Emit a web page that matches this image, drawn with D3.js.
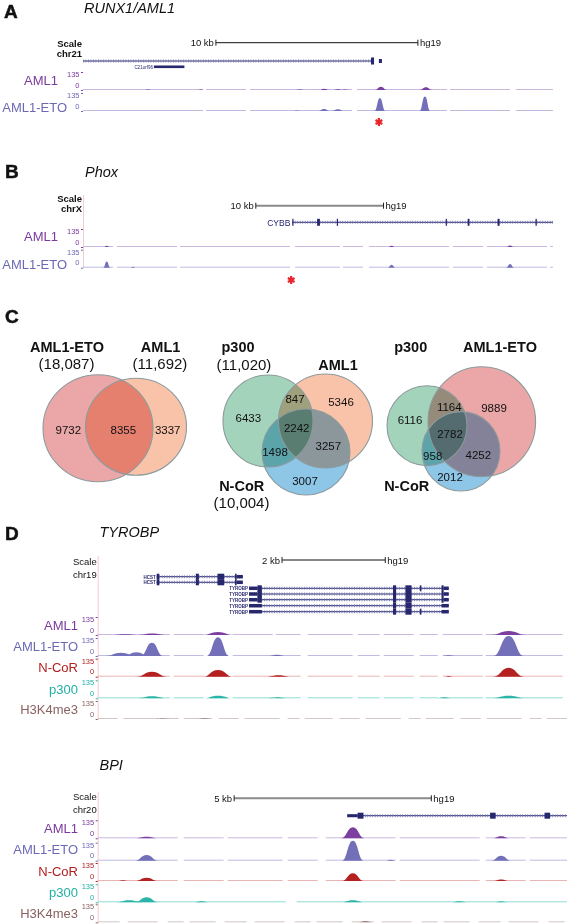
<!DOCTYPE html>
<html>
<head>
<meta charset="utf-8">
<script src="https://cdn.jsdelivr.net/npm/d3@7"></script>
<style>
  body { margin: 0; background: #fff; }
  svg { display: block; font-family: "Liberation Sans", Arial, sans-serif; }
</style>
</head>
<body>
<svg id="fig" width="567" height="924"></svg>
<script>
// ---------- data ----------
// peaks are [centre kb, half width kb, signal (0-135 scale)]

// A  RUNX1/AML1
const runxScaleBar = [6.58, 16.58];
const runxSpan = [0, 14.31];
const runxExons = [[14.26, 14.41, "cds"], [14.65, 14.80, "utr"]];
const runxOrfSpan = [3.51, 5.02];
const runxAML1 = [[3.22, 0.15, 3], [5.84, 0.15, 3], [10.74, 0.2, 3], [11.93, 0.25, 9], [12.62, 0.2, 5], [12.97, 0.2, 4], [14.75, 0.3, 24], [16.98, 0.3, 20]];
const runxAML1ETO = [[10.59, 0.2, 4], [11.93, 0.3, 15], [12.62, 0.3, 13], [14.70, 0.27, 97], [16.93, 0.27, 109]];
const runxStar = 14.65;

// B  Phox (CYBB)
const phoxScaleBar = [13.53, 23.53];
const cybbSpan = [16.39, 36.8];
const cybbExons = [[16.39, 16.47, "cds"], [18.33, 18.55, "cds"], [19.87, 19.97, "cds"], [28.40, 28.47, "cds"], [30.12, 30.26, "cds"], [32.46, 32.62, "cds"], [35.43, 35.53, "cds"]];
const phoxAML1 = [[1.86, 0.25, 10], [24.16, 0.3, 10], [33.44, 0.3, 12]];
const phoxAML1ETO = [[1.86, 0.28, 47], [3.92, 0.2, 8], [24.16, 0.3, 23], [33.44, 0.3, 27]];
const phoxStar = 16.3;

// C  Venn diagrams
const venn1Names = ["AML1-ETO", "AML1"];
const venn1Totals = ["(18,087)", "(11,692)"];
const venn1Counts = [9732, 8355, 3337];
const venn2Names = ["p300", "AML1", "N-CoR"];
const venn2Totals = ["(11,020)", "", "(10,004)"];
const venn2Counts = [6433, 847, 5346, 2242, 1498, 3257, 3007];
const venn3Names = ["p300", "AML1-ETO", "N-CoR"];
const venn3Counts = [6116, 1164, 9889, 2782, 958, 4252, 2012];

// D  TYROBP
const tyroScaleBar = [3.57, 5.57];
const hcstSpan = [1.143, 2.81];
const hcstExons = [[1.143, 1.194, "cds"], [1.90, 1.96, "cds"], [2.32, 2.45, "cds"], [2.66, 2.69, "cds"], [2.69, 2.81, "utr"]];
const tyroSpan = [2.932, 6.80];
const tyroExonsLong = [[2.932, 3.093, "utr"], [3.093, 3.18, "cds"], [5.72, 5.78, "cds"], [5.96, 6.08, "cds"], [6.66, 6.70, "cds"], [6.70, 6.80, "utr"]];
const tyroExonsShort = [[2.932, 3.18, "utr"], [5.72, 5.78, "cds"], [5.96, 6.08, "cds"], [6.66, 6.80, "utr"]];
const tyroExtraExon = [[6.24, 6.27, "cds"]];
const tyroAML1 = [[0.53, 0.25, 5], [1.05, 0.3, 11], [2.33, 0.3, 22], [7.96, 0.35, 30]];
const tyroAML1ETO = [[0.45, 0.3, 24], [0.75, 0.25, 28], [1.05, 0.22, 100], [2.33, 0.22, 140], [3.47, 0.2, 10], [6.80, 0.15, 6], [7.96, 0.3, 150]];
const tyroNCoR = [[1.05, 0.3, 37], [2.33, 0.3, 50], [3.50, 0.25, 11], [6.80, 0.1, 6], [7.96, 0.3, 67]];
const tyroP300 = [[1.05, 0.3, 15], [2.33, 0.3, 19], [3.47, 0.2, 7], [6.70, 0.15, 7], [7.96, 0.35, 19]];
const tyroH3K4 = [[1.26, 0.15, 5], [2.07, 0.12, 5]];

// D  BPI
const bpiScaleBar = [3.46, 8.46];
const bpiSpan = [6.33, 11.9];
const bpiExons = [[6.33, 6.59, "utr"], [6.59, 6.74, "cds"], [9.95, 10.09, "cds"], [11.33, 11.47, "cds"]];
const bpiAML1 = [[1.24, 0.3, 11], [6.47, 0.3, 82], [10.23, 0.22, 15]];
const bpiAML1ETO = [[1.24, 0.3, 43], [6.47, 0.28, 150], [7.43, 0.15, 8], [10.23, 0.25, 37]];
const bpiNCoR = [[0.64, 0.15, 6], [1.24, 0.3, 25], [6.47, 0.28, 58], [10.23, 0.2, 11]];
const bpiP300 = [[0.8, 0.35, 15], [1.24, 0.3, 37], [2.63, 0.2, 7], [6.47, 0.3, 15], [9.17, 0.2, 7], [10.23, 0.15, 7]];
const bpiH3K4 = [[6.79, 0.2, 10]];

// ---------- styles ----------
const col = {
  AML1:       { text: "#7b3a9c", fill: "#7d3f9f", light: "#cbb8de" },
  "AML1-ETO": { text: "#6c69b3", fill: "#7370b9", light: "#bebce1" },
  "N-CoR":    { text: "#b01e1e", fill: "#b52020", light: "#e8b4b4" },
  p300:       { text: "#20b0a4", fill: "#2ab5a8", light: "#8fdcd4" },
  H3K4me3:    { text: "#8a6262", fill: "#a07f7f", light: "#d2c6c6" }
};
const geneCol = "#27276e";

const svg = d3.select("#fig");

function txt(g, x, y, s, size, opts = {}) {
  return g.append("text").attr("x", x).attr("y", y)
    .attr("text-anchor", opts.anchor || "start")
    .attr("fill", opts.fill || "#111")
    .style("font-size", size + "px")
    .style("font-weight", opts.weight || "normal")
    .style("font-style", opts.italic ? "italic" : "normal")
    .text(s);
}

function drawGene(g, x, y, span, exons, cds, utr) {
  g.append("line").attr("x1", x(span[0])).attr("x2", x(span[1]))
    .attr("y1", y).attr("y2", y).attr("stroke", geneCol).attr("stroke-width", 1);
  g.append("line").attr("x1", x(span[0])).attr("x2", x(span[1]))
    .attr("y1", y).attr("y2", y).attr("stroke", "#7777b0").attr("stroke-width", 3)
    .attr("stroke-dasharray", "0.8,1.7");
  g.selectAll(null).data(exons).join("rect")
    .attr("x", d => x(d[0])).attr("width", d => Math.max(1.2, x(d[1]) - x(d[0])))
    .attr("y", d => y - (d[2] === "cds" ? cds : utr) / 2)
    .attr("height", d => d[2] === "cds" ? cds : utr)
    .attr("fill", geneCol);
}

function drawBrowser(cfg) {
  const g = svg.append("g");
  const x = d3.scaleLinear().domain(cfg.domain).range([cfg.x0, cfg.x1]);

  if (cfg.edge) {
    g.append("line").attr("x1", cfg.x0 + 0.5).attr("x2", cfg.x0 + 0.5)
      .attr("y1", cfg.edge[0]).attr("y2", cfg.edge[1]).attr("stroke", "#f5cccc");
  }

  // Scale / chromosome labels
  txt(g, cfg.x0 - 1, cfg.scaleTextY, "Scale", 9.5, { anchor: "end", weight: cfg.boldScale ? "bold" : "normal" });
  txt(g, cfg.x0 - 1, cfg.chrTextY, cfg.chr, 9.5, { anchor: "end", weight: cfg.boldScale ? "bold" : "normal" });

  // Scale bar
  const sb = cfg.scaleBar;
  g.append("line").attr("x1", x(sb[0])).attr("x2", x(sb[1]))
    .attr("y1", cfg.barY).attr("y2", cfg.barY)
    .attr("stroke", cfg.barColor).attr("stroke-width", cfg.barWidth);
  [sb[0], sb[1]].forEach(v => {
    g.append("line").attr("x1", x(v)).attr("x2", x(v))
      .attr("y1", cfg.barY - 3).attr("y2", cfg.barY + 3).attr("stroke", "#222");
  });
  txt(g, x(sb[0]) - 2, cfg.barY + 3.5, cfg.barLabel, 9.5, { anchor: "end" });
  txt(g, x(sb[1]) + 2, cfg.barY + 3.5, "hg19", 9.5);

  cfg.genes(g, x);

  // Signal tracks
  cfg.tracks.forEach(t => {
    const c = col[t.name];
    const y = d3.scaleLinear().domain([0, 150]).range([t.base, t.base - 20]).clamp(true);
    g.append("line").attr("x1", cfg.x0).attr("x2", cfg.x1)
      .attr("y1", t.base - 0.5).attr("y2", t.base - 0.5)
      .attr("stroke", c.light).attr("stroke-width", 1)
      .attr("stroke-dasharray", t.dash || cfg.dash);
    const area = d3.area().x(d => x(d[0])).y0(t.base).y1(d => y(d[1])).curve(d3.curveBumpX);
    g.selectAll(null).data(t.peaks).join("path")
      .attr("d", p => area([[p[0] - p[1], 0], [p[0], p[2]], [p[0] + p[1], 0]]))
      .attr("fill", c.fill);
    const ax = g.append("g").attr("transform", `translate(${cfg.x0},0)`)
      .call(d3.axisLeft(y).tickValues([0, 135]).tickSize(2).tickPadding(1.5));
    ax.select(".domain").remove();
    ax.selectAll("line").attr("stroke", c.text);
    ax.selectAll("text").attr("fill", c.text)
      .attr("dy", d => d === 0 ? "-0.4em" : "0.6em")
      .style("font-size", "7.5px").style("font-family", "'Liberation Sans', Arial, sans-serif");
    txt(g, t.labelX, t.labelY, t.name, 13, { anchor: "end", fill: c.text });
  });

  if (cfg.star != null) {
    g.append("path")
      .attr("transform", `translate(${x(cfg.star)},${cfg.starY})`)
      .attr("d", d3.symbol().type(d3.symbolAsterisk).size(42)())
      .attr("stroke", "#e8242a").attr("stroke-width", 2.2).attr("fill", "none");
  }
}

// ---------- panel headings ----------
const heads = svg.append("g");
[["A", 4, 18], ["B", 5, 178], ["C", 5, 323], ["D", 5, 540]].forEach(([s, x, y]) => {
  txt(heads, x, y, s, 19, { weight: "bold" }).attr("stroke", "#111").attr("stroke-width", 0.5);
});
txt(heads, 84, 13, "RUNX1/AML1", 14.5, { italic: true });
txt(heads, 85, 177, "Phox", 14.5, { italic: true });
txt(heads, 99.5, 537, "TYROBP", 14.5, { italic: true });
txt(heads, 99.5, 769.5, "BPI", 14.5, { italic: true });

// ---------- A ----------
drawBrowser({
  domain: [0, 23.27], x0: 83, x1: 553, chr: "chr21", boldScale: true,
  scaleTextY: 46.5, chrTextY: 56.5, barY: 42.7, barColor: "#111", barWidth: 1,
  scaleBar: runxScaleBar, barLabel: "10 kb",
  dash: "120,3,40,4,70,2,30,5,90,3,60,6",
  genes: (g, x) => {
    drawGene(g, x, 61, runxSpan, runxExons, 7, 4);
    g.append("rect").attr("x", x(runxOrfSpan[0])).attr("width", x(runxOrfSpan[1]) - x(runxOrfSpan[0]))
      .attr("y", 65.5).attr("height", 2.6).attr("fill", geneCol);
    txt(g, x(runxOrfSpan[0]) - 1, 68.5, "C21orf96", 4.5, { anchor: "end", fill: geneCol });
  },
  tracks: [
    { name: "AML1", base: 90, peaks: runxAML1, labelX: 58, labelY: 85 },
    { name: "AML1-ETO", base: 111, peaks: runxAML1ETO, labelX: 67, labelY: 112 }
  ],
  star: runxStar, starY: 122
});

// ---------- B ----------
drawBrowser({
  domain: [0, 36.8], x0: 83, x1: 553, chr: "chrX", boldScale: true, edge: [195, 268],
  scaleTextY: 201.5, chrTextY: 212, barY: 205.7, barColor: "#8a8a8a", barWidth: 2,
  scaleBar: phoxScaleBar, barLabel: "10 kb",
  dash: "30,4,60,3,110,5,45,3,20,6,80,4",
  genes: (g, x) => {
    drawGene(g, x, 222.3, cybbSpan, cybbExons, 7, 4);
    txt(g, x(cybbSpan[0]) - 2, 225.5, "CYBB", 8.5, { anchor: "end", fill: geneCol });
  },
  tracks: [
    { name: "AML1", base: 247, peaks: phoxAML1, labelX: 58, labelY: 240.7 },
    { name: "AML1-ETO", base: 267.7, peaks: phoxAML1ETO, labelX: 67, labelY: 269 }
  ],
  star: phoxStar, starY: 280
});

// ---------- C  Venn diagrams ----------
const vennColors = { pink: "#eba7a7", orange: "#f9c3aa", green: "#a3d3ba", blue: "#8ec6e8" };
const vennLayouts = [
  {
    circles: [[98, 428.3, 55, 53.5, "pink"], [136, 426.7, 50.5, 48.5, "orange"]],
    names: venn1Names, totals: venn1Totals,
    namePos: [[67, 352], [160.6, 352]], totalPos: [[66.5, 368.5], [160, 368.5]],
    counts: venn1Counts, countPos: [[68.3, 430], [123.3, 430], [167.7, 430]]
  },
  {
    circles: [[268, 421, 45, 46, "green"], [325.5, 421, 47, 47, "orange"], [306, 452, 44, 43, "blue"]],
    names: venn2Names, totals: venn2Totals,
    namePos: [[238, 352], [338, 369.5], [241.7, 491]], totalPos: [[244, 369.5], [0, 0], [241.5, 507.5]],
    counts: venn2Counts,
    countPos: [[248.3, 418.3], [295, 399.3], [341, 402.3], [296.7, 428.3], [275, 452.3], [328.3, 446], [305, 481]]
  },
  {
    circles: [[427, 425.7, 40, 40, "green"], [481.8, 421.7, 53.8, 55, "pink"], [461, 451.3, 39, 39.7, "blue"]],
    names: venn3Names, totals: ["", "", ""],
    namePos: [[410.7, 352], [500, 352], [406.7, 491]], totalPos: [[0, 0], [0, 0], [0, 0]],
    counts: venn3Counts,
    countPos: [[410, 420], [449.3, 407.3], [494, 408], [450, 434.3], [432.7, 455.7], [478.3, 455], [450, 476.7]]
  }
];

vennLayouts.forEach(v => {
  const g = svg.append("g").style("isolation", "isolate");
  g.selectAll(null).data(v.circles).join("ellipse")
    .attr("cx", d => d[0]).attr("cy", d => d[1]).attr("rx", d => d[2]).attr("ry", d => d[3])
    .attr("fill", d => vennColors[d[4]]).style("mix-blend-mode", "multiply");
  g.selectAll(null).data(v.circles).join("ellipse")
    .attr("cx", d => d[0]).attr("cy", d => d[1]).attr("rx", d => d[2]).attr("ry", d => d[3])
    .attr("fill", "none").attr("stroke", "#8c9a9c").attr("stroke-width", 1.1);
  v.names.forEach((n, i) => {
    txt(g, v.namePos[i][0], v.namePos[i][1], n, 14.5, { anchor: "middle", weight: "bold" });
    if (v.totals[i]) txt(g, v.totalPos[i][0], v.totalPos[i][1], v.totals[i], 15, { anchor: "middle" });
  });
  v.counts.forEach((n, i) => {
    txt(g, v.countPos[i][0], v.countPos[i][1] + 4, d3.format("d")(n), 11.5, { anchor: "middle" });
  });
});

// ---------- D  TYROBP ----------
drawBrowser({
  domain: [0, 9.09], x0: 97.7, x1: 567, chr: "chr19", edge: [556, 720],
  scaleTextY: 565, chrTextY: 578, barY: 560, barColor: "#111", barWidth: 1,
  scaleBar: tyroScaleBar, barLabel: "2 kb",
  dash: "45,5,22,4,30,6,18,5,40,3,25,7",
  genes: (g, x) => {
    [576.7, 582.3].forEach(y => {
      drawGene(g, x, y, hcstSpan, hcstExons, 6, 3.5);
      txt(g, x(hcstSpan[0]) - 1, y + 1.8, "HCST", 4.5, { anchor: "end", fill: geneCol, weight: "bold" });
    });
    [588.3, 594, 599.7, 605.7, 611.7].forEach((y, i) => {
      const ex = (i < 3 ? tyroExonsLong : tyroExonsShort).concat(i === 0 || i === 4 ? tyroExtraExon : []);
      drawGene(g, x, y, tyroSpan, ex, 6, 3.5);
      txt(g, x(tyroSpan[0]) - 1, y + 1.8, "TYROBP", 4.5, { anchor: "end", fill: geneCol, weight: "bold" });
    });
  },
  tracks: [
    { name: "AML1", base: 635, peaks: tyroAML1, labelX: 78, labelY: 630.3 },
    { name: "AML1-ETO", base: 656, peaks: tyroAML1ETO, labelX: 78, labelY: 650.5 },
    { name: "N-CoR", base: 676.7, peaks: tyroNCoR, labelX: 78, labelY: 672 },
    { name: "p300", base: 698.3, peaks: tyroP300, labelX: 78, labelY: 693.7 },
    { name: "H3K4me3", base: 719, peaks: tyroH3K4, labelX: 78, labelY: 713.7, dash: "20,6,35,8,12,5,28,7" }
  ]
});

// ---------- D  BPI ----------
drawBrowser({
  domain: [0, 11.9], x0: 97.7, x1: 567, chr: "chr20", edge: [792, 924],
  scaleTextY: 800, chrTextY: 813, barY: 798.3, barColor: "#8a8a8a", barWidth: 2,
  scaleBar: bpiScaleBar, barLabel: "5 kb",
  dash: "80,6,40,4,55,5,30,8,70,4",
  genes: (g, x) => {
    drawGene(g, x, 815.7, bpiSpan, bpiExons, 6, 3);
  },
  tracks: [
    { name: "AML1", base: 838.3, peaks: bpiAML1, labelX: 78, labelY: 832.7 },
    { name: "AML1-ETO", base: 860.7, peaks: bpiAML1ETO, labelX: 78, labelY: 854.3 },
    { name: "N-CoR", base: 881, peaks: bpiNCoR, labelX: 78, labelY: 876 },
    { name: "p300", base: 902.3, peaks: bpiP300, labelX: 78, labelY: 896.7, dash: "188,11,400" },
    { name: "H3K4me3", base: 922.3, peaks: bpiH3K4, labelX: 78, labelY: 917.7, dash: "22,8,30,10,16,6,26,9" }
  ]
});
</script>
</body>
</html>
